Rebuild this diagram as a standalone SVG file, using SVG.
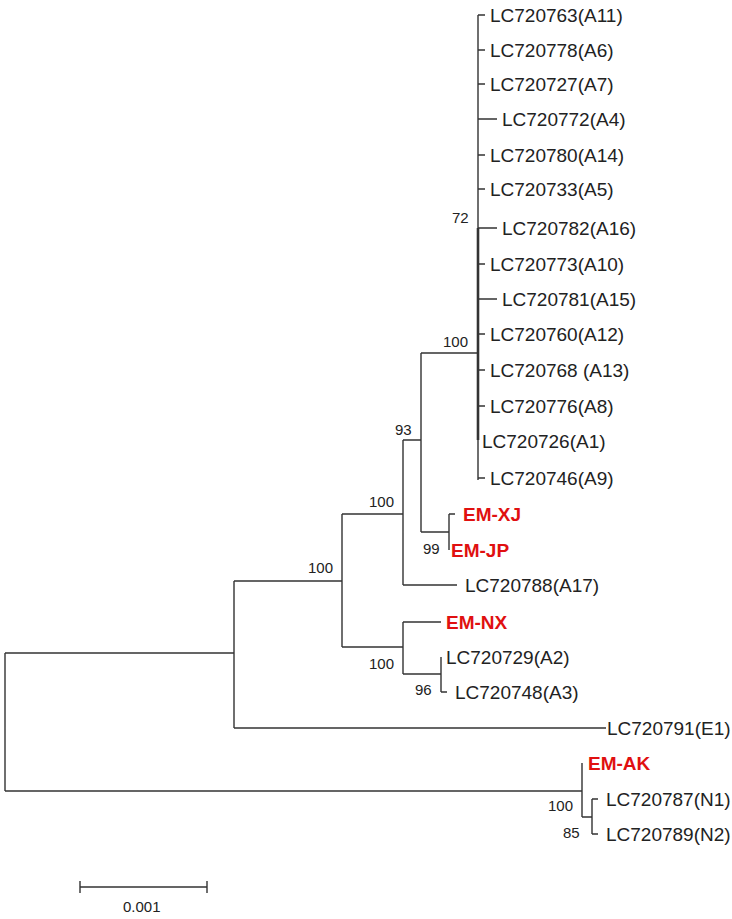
<svg xmlns="http://www.w3.org/2000/svg" width="732" height="919" viewBox="0 0 732 919">
<style>
.e{stroke:#333;stroke-width:1.4;fill:none}
.t{font-family:"Liberation Sans",Arial,sans-serif;font-size:19px;fill:#222}
.r{font-family:"Liberation Sans",Arial,sans-serif;font-size:19px;fill:#e01010;font-weight:bold}
.b{font-family:"Liberation Sans",Arial,sans-serif;font-size:15px;fill:#222}
</style>
<rect width="732" height="919" fill="#fff"/>
<g id="connectors">
<path class="e" d="M478 15V480 M478 15H485 M478 50H485 M478 84H485 M478 119H497 M478 155H485 M478 189H485 M478 228H497 M478 264H485 M478 299H497 M478 334H485 M478 370H485 M478 406H485 M478 478H485"/>
<path d="M478 228V440" stroke="#333" stroke-width="2.6"/>
<path class="e" d="M421 353H478 M421 353V532 M403 440H421 M421 532H449 M449 514V550 M449 514H455 M403 440V585 M403 585H457 M342 514H403 M342 514V647 M342 647H403 M403 622V674 M403 622H441 M403 674H441 M441 657V692 M441 692H447 M234 581H342 M234 581V728 M234 728H606 M5 653H234 M5 653V791 M5 791H582 M582 763V817 M582 817H592 M592 799V834 M592 799H598 M592 834H598"/>
<path class="e" d="M80 887H207 M80 881V893 M207 881V893"/>
</g>
<g id="leaves">
<text class="t" x="490" y="22">LC720763(A11)</text>
<text class="t" x="490" y="57">LC720778(A6)</text>
<text class="t" x="490" y="91">LC720727(A7)</text>
<text class="t" x="502" y="126">LC720772(A4)</text>
<text class="t" x="490" y="162">LC720780(A14)</text>
<text class="t" x="490" y="196">LC720733(A5)</text>
<text class="t" x="502" y="235">LC720782(A16)</text>
<text class="t" x="490" y="271">LC720773(A10)</text>
<text class="t" x="502" y="306">LC720781(A15)</text>
<text class="t" x="490" y="341">LC720760(A12)</text>
<text class="t" x="490" y="377">LC720768 (A13)</text>
<text class="t" x="490" y="413">LC720776(A8)</text>
<text class="t" x="482" y="448">LC720726(A1)</text>
<text class="t" x="490" y="485">LC720746(A9)</text>
<text class="r" x="463" y="521">EM-XJ</text>
<text class="r" x="451" y="557">EM-JP</text>
<text class="t" x="465" y="592">LC720788(A17)</text>
<text class="r" x="446" y="629">EM-NX</text>
<text class="t" x="446" y="664">LC720729(A2)</text>
<text class="t" x="455" y="699">LC720748(A3)</text>
<text class="t" x="607" y="735">LC720791(E1)</text>
<text class="r" x="588" y="770">EM-AK</text>
<text class="t" x="606" y="806">LC720787(N1)</text>
<text class="t" x="606" y="841">LC720789(N2)</text>
</g>
<g id="support">
<text class="b" x="452" y="223">72</text>
<text class="b" x="443" y="347">100</text>
<text class="b" x="395" y="435">93</text>
<text class="b" x="369" y="507">100</text>
<text class="b" x="423" y="554">99</text>
<text class="b" x="308" y="573">100</text>
<text class="b" x="369" y="669">100</text>
<text class="b" x="415" y="695">96</text>
<text class="b" x="548" y="811">100</text>
<text class="b" x="563" y="838">85</text>
<text class="b" x="123" y="912">0.001</text>
</g>
</svg>
